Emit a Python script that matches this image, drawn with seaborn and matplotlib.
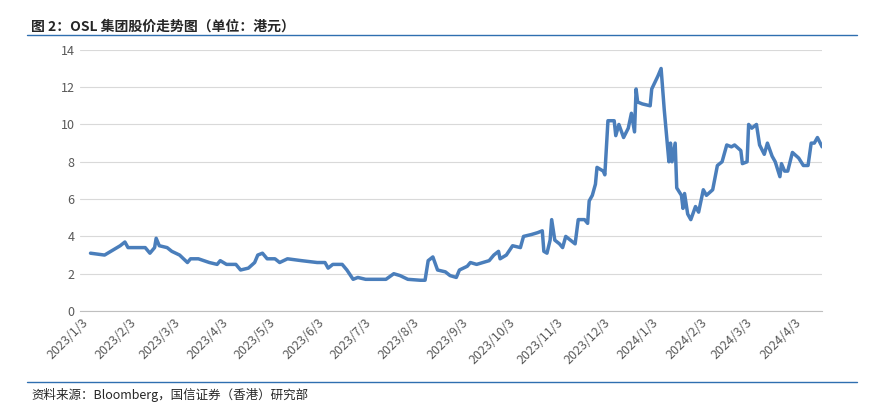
import matplotlib
matplotlib.use("Agg")
import matplotlib.pyplot as plt
import seaborn as sns
import pandas as pd

sns.set_style("white")
plt.rcParams['font.family'] = ['Noto Sans CJK SC', 'DejaVu Sans']

start = pd.Timestamp("2023-01-03")
day_offsets = [0,9,19,22,24,35,38,41,42,44,49,52,57,62,64,69,76,81,83,87,93,96,101,105,107,110,113,118,121,126,135,145,150,152,155,161,164,168,171,176,189,194,198,203,211,214,216,219,222,227,230,234,236,241,243,247,251,255,258,261,262,266,270,275,277,282,286,289,290,292,294,295,297,300,302,304,307,310,312,316,318,319,321,323,324,328,329,331,335,336,338,341,344,346,348,349,350,353,358,359,363,365,367,370,371,372,374,375,378,379,380,382,384,387,389,392,394,398,401,404,407,410,412,416,417,420,421,423,426,428,431,433,436,438,441,442,444,446,449,453,456,459,461,463,465,468]
prices = [3.1,3.0,3.5,3.7,3.4,3.4,3.1,3.4,3.9,3.5,3.4,3.2,3.0,2.6,2.8,2.8,2.6,2.5,2.7,2.5,2.5,2.2,2.3,2.6,3.0,3.1,2.8,2.8,2.6,2.8,2.7,2.6,2.6,2.3,2.5,2.5,2.2,1.7,1.8,1.7,1.7,2.0,1.9,1.7,1.65,1.65,2.7,2.9,2.2,2.1,1.9,1.8,2.2,2.4,2.6,2.5,2.6,2.7,3.0,3.2,2.8,3.0,3.5,3.4,4.0,4.1,4.2,4.3,3.2,3.1,3.8,4.9,3.8,3.6,3.4,4.0,3.8,3.6,4.9,4.9,4.7,5.9,6.2,6.8,7.7,7.5,7.3,10.2,10.2,9.4,10.0,9.3,9.8,10.6,9.6,11.9,11.2,11.1,11.0,11.9,12.6,13.0,10.8,8.0,9.0,8.0,9.0,6.6,6.2,5.5,6.3,5.2,4.9,5.6,5.3,6.5,6.2,6.5,7.8,8.0,8.9,8.8,8.9,8.6,7.9,8.0,10.0,9.8,10.0,8.9,8.4,9.0,8.3,8.0,7.2,7.9,7.5,7.5,8.5,8.2,7.8,7.8,9.0,9.0,9.3,8.8]
tick_dates = ["2023/1/3","2023/2/3","2023/3/3","2023/4/3","2023/5/3","2023/6/3","2023/7/3","2023/8/3","2023/9/3","2023/10/3","2023/11/3","2023/12/3","2024/1/3","2024/2/3","2024/3/3","2024/4/3"]

df = pd.DataFrame({"date": start + pd.to_timedelta(day_offsets, unit="D"), "price": prices})

fig = plt.figure(figsize=(8.84, 4.05), dpi=100)
ax = fig.add_axes([0.09, 0.232, 0.84, 0.645])
sns.lineplot(data=df, x="date", y="price", ax=ax, color="#4a7ebb", linewidth=2.5)
ax.set_ylim(0, 14)
ax.set_yticks(range(0, 15, 2))
ax.set_xlim(pd.Timestamp("2022-12-27"), pd.Timestamp("2024-04-15"))
tk = pd.to_datetime(tick_dates, format="%Y/%m/%d")
ax.set_xticks(tk)
ax.set_xticklabels(tick_dates, rotation=45, ha="right", fontsize=9, color="#595959")
ax.tick_params(axis="y", labelsize=9, labelcolor="#595959", length=0)
ax.tick_params(axis="x", length=0)
ax.yaxis.grid(True, color="#d9d9d9", linewidth=0.8)
ax.set_xlabel(""); ax.set_ylabel("")
for s in ["top", "right", "left"]:
    ax.spines[s].set_visible(False)
ax.spines["bottom"].set_color("#bfbfbf")

fig.text(0.035, 0.935, "图 2：OSL 集团股价走势图（单位：港元）", fontsize=10, fontweight="bold", va="center")
fig.add_artist(plt.Line2D([0.03, 0.97], [0.913, 0.913], color="#2f6fb0", linewidth=1))
fig.add_artist(plt.Line2D([0.03, 0.97], [0.057, 0.057], color="#2f6fb0", linewidth=1))
fig.text(0.035, 0.025, "资料来源：Bloomberg，国信证券（香港）研究部", fontsize=9, va="center")
fig.savefig("out.png", dpi=100)
